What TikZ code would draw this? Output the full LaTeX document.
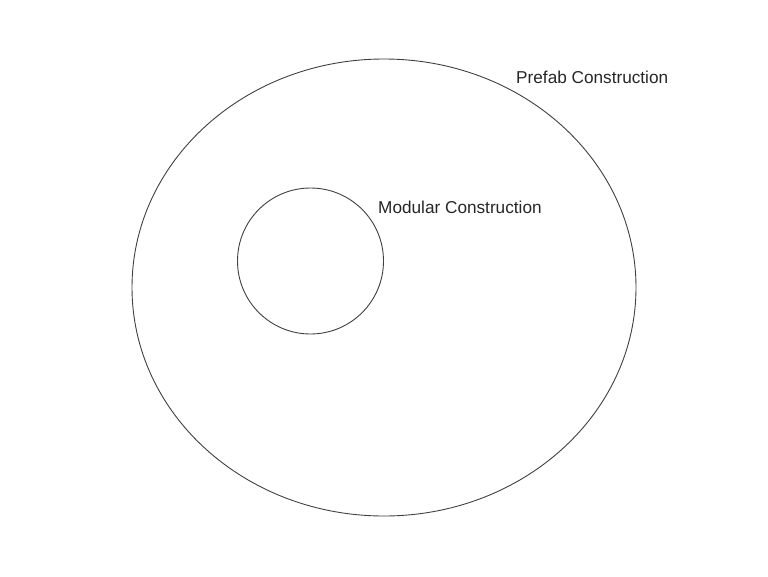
\documentclass[tikz,border=0pt]{standalone}
\usepackage{fontspec}
\setmainfont{Liberation Sans}
\usetikzlibrary{positioning,shapes.geometric}

\begin{document}
\begin{tikzpicture}[x=1pt, y=-1pt,
    set/.style={draw=black!75, line width=0.9pt, inner sep=0pt},
    setlabel/.style={anchor=west, inner sep=0pt, font=\fontsize{17.2}{20}\selectfont, text=black!85}]
  \useasboundingbox (0,0) rectangle (768,576);
  \node[set, ellipse, minimum width=504pt, minimum height=457pt] (prefab) at (384, 287.5) {};
  \node[set, circle, minimum size=146pt] (modular) at (310.5, 261) {};
  \node[setlabel] (prefabLabel) at (516, 77.5) {Prefab Construction};
  \node[setlabel] (modularLabel) at (378, 207.5) {Modular Construction};
\end{tikzpicture}
\end{document}
